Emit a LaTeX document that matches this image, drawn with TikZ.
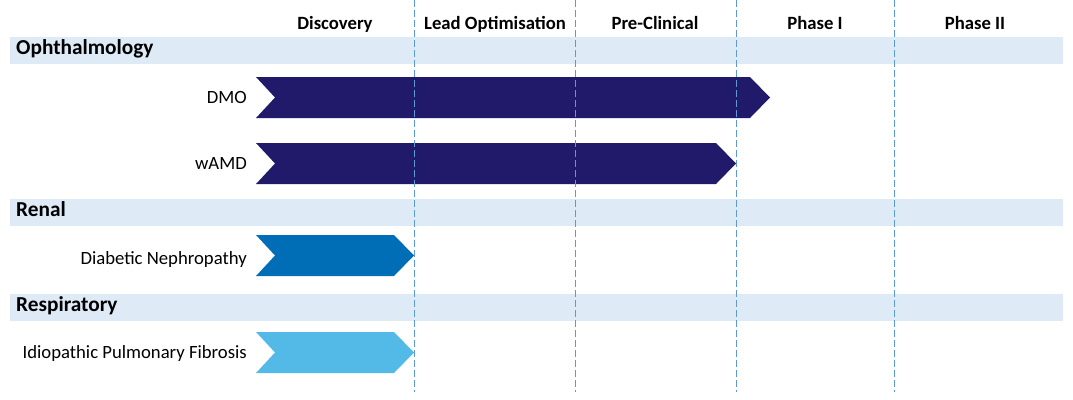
\documentclass[tikz,border=0pt]{standalone}
\usepackage{fontspec}
\setmainfont{Carlito}
\begin{document}
\begin{tikzpicture}[x=1pt,y=-1pt,
  band/.style={fill=bandblue,draw=none},
  phase/.style={font=\bfseries\fontsize{18.7}{20}\selectfont,anchor=base,inner sep=0pt},
  cat/.style={font=\bfseries\fontsize{21.3}{23}\selectfont,anchor=base west,inner sep=0pt},
  prog/.style={font=\fontsize{18.7}{20}\selectfont,anchor=base east,inner sep=0pt},
  divider/.style={draw=divblue,line width=0.9pt,dash pattern=on 7pt off 3pt}]
\definecolor{bandblue}{HTML}{DEEAF6}
\definecolor{divblue}{HTML}{5B9BD5}
\definecolor{navy}{HTML}{211A6B}
\definecolor{midblue}{HTML}{006EB6}
\definecolor{skyblue}{HTML}{53BAE8}
\useasboundingbox (0,0) rectangle (1073,399);
% bands
\fill[band] (10,37) rectangle (1063,64);
\fill[band] (10,199) rectangle (1063,226);
\fill[band] (10,294) rectangle (1063,321);
\node[cat] (oph) at (16,54.5) {Ophthalmology};
\node[cat] (ren) at (16,216.5) {Renal};
\node[cat] (res) at (16,311) {Respiratory};
% headers
\node[phase] (h1) at (335,29.5) {Discovery};
\node[phase] (h2) at (495,29.5) {Lead Optimisation};
\node[phase] (h3) at (655,29.5) {Pre-Clinical};
\node[phase] (h4) at (815,29.5) {Phase I};
\node[phase] (h5) at (975,29.5) {Phase II};
% chevrons
\fill[navy] (256,77) -- (750,77) -- (770,97.5) -- (750,118) -- (256,118) -- (275,97.5) -- cycle;
\fill[navy] (256,143) -- (716,143) -- (736,163.5) -- (716,184) -- (256,184) -- (275,163.5) -- cycle;
\fill[midblue] (256,235) -- (394,235) -- (414,255.5) -- (394,276) -- (256,276) -- (275,255.5) -- cycle;
\fill[skyblue] (256,332) -- (394,332) -- (414,352.5) -- (394,373) -- (256,373) -- (275,352.5) -- cycle;
\node[prog] (dmo) at (247,103) {DMO};
\node[prog] (wamd) at (247,169) {wAMD};
\node[prog] (dn) at (247,264) {Diabetic Nephropathy};
\node[prog] (ipf) at (247,358.5) {Idiopathic Pulmonary Fibrosis};
% dividers
\coordinate (d1t) at (414,0); \coordinate (d1b) at (414,392);
\coordinate (d2t) at (575,0); \coordinate (d2b) at (575,392);
\coordinate (d3t) at (736,0); \coordinate (d3b) at (736,392);
\coordinate (d4t) at (894,0); \coordinate (d4b) at (894,392);
\draw[divider] (d1t) -- (d1b);
\draw[divider] (d2t) -- (d2b);
\draw[divider] (d3t) -- (d3b);
\draw[divider] (d4t) -- (d4b);
\end{tikzpicture}
\end{document}
